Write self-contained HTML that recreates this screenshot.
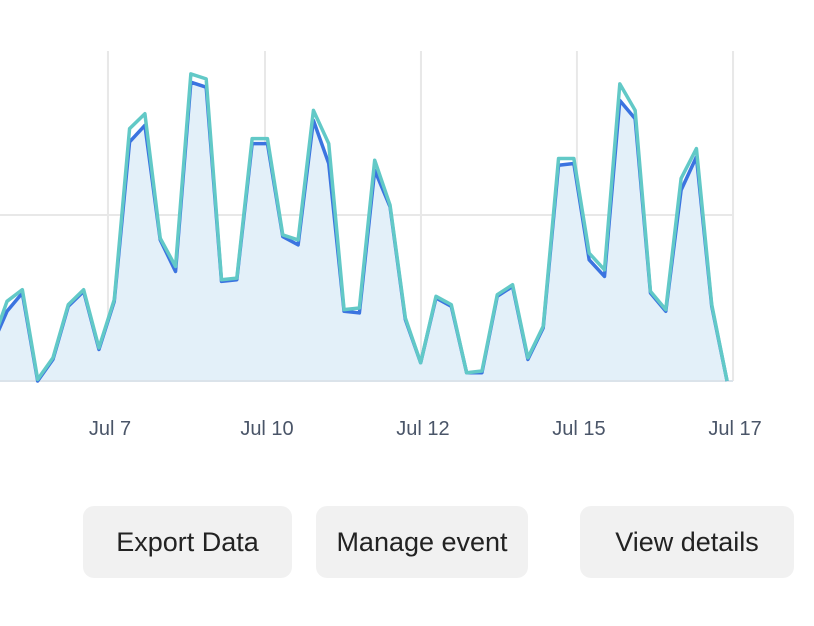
<!DOCTYPE html>
<html><head><meta charset="utf-8"><style>
html,body{margin:0;padding:0;background:#fff;width:814px;height:626px;overflow:hidden;font-family:"Liberation Sans",sans-serif}
.btn{position:absolute;top:506px;height:72px;background:#f1f1f1;border-radius:11px;font-size:27px;color:#222;display:flex;align-items:center;justify-content:center;font-family:"Liberation Sans",sans-serif}
</style></head><body>
<svg id="chart" width="814" height="480" style="position:absolute;left:0;top:0"></svg>
<div class="btn" style="left:83px;width:209px">Export Data</div>
<div class="btn" style="left:316px;width:212px">Manage event</div>
<div class="btn" style="left:580px;width:214px">View details</div>
<script>
const seriesTeal=[22,48,55,1,14,46,55,20,49,152,161,86,69,185,182,61,62,146,146,88,85,163,143,43,44,133,106,38,11,51,46,5,6,52,58,14,33,134,134,77,67,179,163,54,43,122,140,46,0];
const seriesBlue=[21,42,53,0,13,45,54,19,48,144,154,85,66,180,177,60,61,143,143,87,82,157,131,42,41,127,105,37,11,50,45,5,5,51,57,13,32,130,131,73,63,169,158,53,42,115,135,45,0];
const tickLabels=["Jul 7","Jul 10","Jul 12","Jul 15","Jul 17"];
const tickIdx=[7.59,17.84,28.02,38.2,48.39];
const yTicks=[0,100,200];
const NS="http://www.w3.org/2000/svg";
const svg=document.getElementById('chart');
const xS=i=>-8.3+15.32*i;
const yS=v=>381-1.66*v;
function mk(t,a){const e=document.createElementNS(NS,t);for(const k in a)e.setAttribute(k,a[k]);svg.appendChild(e);return e;}
tickIdx.forEach((t,k)=>{
  const l=mk('line',{x1:xS(t),x2:xS(t),y1:51,y2:381,stroke:'#e8e8e8','stroke-width':2});
  
  
  const tx=mk('text',{x:xS(t)+2,y:435,'text-anchor':'middle','font-size':20,fill:'#4a5568','font-family':'Liberation Sans, sans-serif'});
  tx.textContent=tickLabels[k];
  
  
});
yTicks.slice(1,2).forEach(v=>{
  const l=mk('line',{x1:0,x2:733,y1:yS(v),y2:yS(v),stroke:'#e8e8e8','stroke-width':2});
  
  
});
let d='M'+xS(0)+','+yS(0);
seriesBlue.forEach((v,i)=>{d+=' L'+xS(i)+','+yS(v);});
d+=' L'+xS(seriesBlue.length-1)+','+yS(0)+'Z';
const area=mk('path',{d:d,fill:'#e3f0f9'});


const base=mk('line',{x1:0,x2:733,y1:381,y2:381,stroke:'#dbe3ea','stroke-width':2});


function line(arr,col){return mk('polyline',{points:arr.map((v,i)=>xS(i)+','+yS(v)).join(' '),fill:'none',stroke:col,'stroke-width':3.5,'stroke-linejoin':'round'});}
const lb=line(seriesBlue,'#3b74e0');


const lt=line(seriesTeal,'#62c9c7');


</script>
</body></html>
